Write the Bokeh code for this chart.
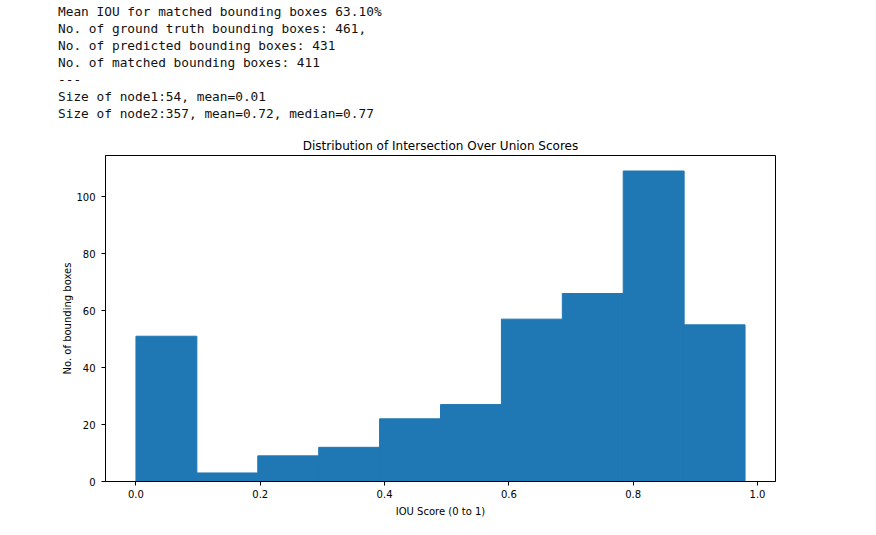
from bokeh.plotting import figure
from bokeh.models import Div, Range1d, FixedTicker
from bokeh.layouts import column
from bokeh.embed import file_html
from bokeh.resources import INLINE

# ---- data ----
info_lines = [
    "Mean IOU for matched bounding boxes 63.10%",
    "No. of ground truth bounding boxes: 461,",
    "No. of predicted bounding boxes: 431",
    "No. of matched bounding boxes: 411",
    "---",
    "Size of node1:54, mean=0.01",
    "Size of node2:357, mean=0.72, median=0.77",
]
bin_edges = [0.0, 0.098, 0.196, 0.294, 0.392, 0.49, 0.588, 0.686, 0.784, 0.882, 0.98]
counts = [51, 3, 9, 12, 22, 27, 57, 66, 109, 55]
x_ticks = [0.0, 0.2, 0.4, 0.6, 0.8, 1.0]
y_ticks = [0, 20, 40, 60, 80, 100]
title_text = "Distribution of Intersection Over Union Scores"
x_label = "IOU Score (0 to 1)"
y_label = "No. of bounding boxes"

# ---- text block ----
html = ('<pre style="margin:0; position:relative; top:-2px; padding-left:53px; '
        'font-family:\'DejaVu Sans Mono\', monospace; font-size:12.8px; line-height:17.05px; color:#111;">'
        + "\n".join(info_lines) + "</pre>")
div = Div(text=html, width=860, height=118)

# ---- histogram ----
W, H = 860, 400
p = figure(width=W, height=H, output_backend="svg", toolbar_location=None,
           x_range=Range1d(-0.049, 1.029), y_range=Range1d(0, 114.45),
           min_border_left=105, min_border_right=85, min_border_top=27, min_border_bottom=47,
           title=title_text)
p.quad(left=bin_edges[:-1], right=bin_edges[1:], bottom=0, top=counts,
       fill_color="#1f77b4", line_color="#1f77b4", line_width=1)

p.title.align = "center"
p.title.text_font = "DejaVu Sans"
p.title.text_font_size = "12px"
p.title.text_font_style = "normal"
p.title.text_color = "#000000"
p.title.standoff = 5

p.xgrid.visible = False
p.ygrid.visible = False
p.outline_line_color = "#000000"
p.outline_line_width = 1
p.outline_line_alpha = 1.0
p.background_fill_color = "white"
p.border_fill_color = "white"

for ax in (p.xaxis[0], p.yaxis[0]):
    ax.axis_line_color = "#000000"
    ax.major_tick_line_color = "#000000"
    ax.major_tick_in = 0
    ax.major_tick_out = 4
    ax.minor_tick_line_color = None
    ax.major_label_text_font = "DejaVu Sans"
    ax.major_label_text_font_size = "10px"
    ax.major_label_text_color = "#000000"
    ax.axis_label_text_font = "DejaVu Sans"
    ax.axis_label_text_font_size = "10px"
    ax.axis_label_text_font_style = "normal"
    ax.axis_label_text_color = "#000000"

p.xaxis[0].ticker = FixedTicker(ticks=x_ticks)
p.yaxis[0].ticker = FixedTicker(ticks=y_ticks)
p.xaxis[0].major_label_overrides = {t: f"{t:.1f}" for t in x_ticks}
p.xaxis[0].axis_label = x_label
p.yaxis[0].axis_label = y_label
p.xaxis[0].major_label_standoff = 4
p.yaxis[0].major_label_standoff = 6
p.xaxis[0].axis_label_standoff = 5
p.yaxis[0].axis_label_standoff = 0

layout = column(div, p, spacing=0)
open("out.html", "w").write(file_html(layout, INLINE))
